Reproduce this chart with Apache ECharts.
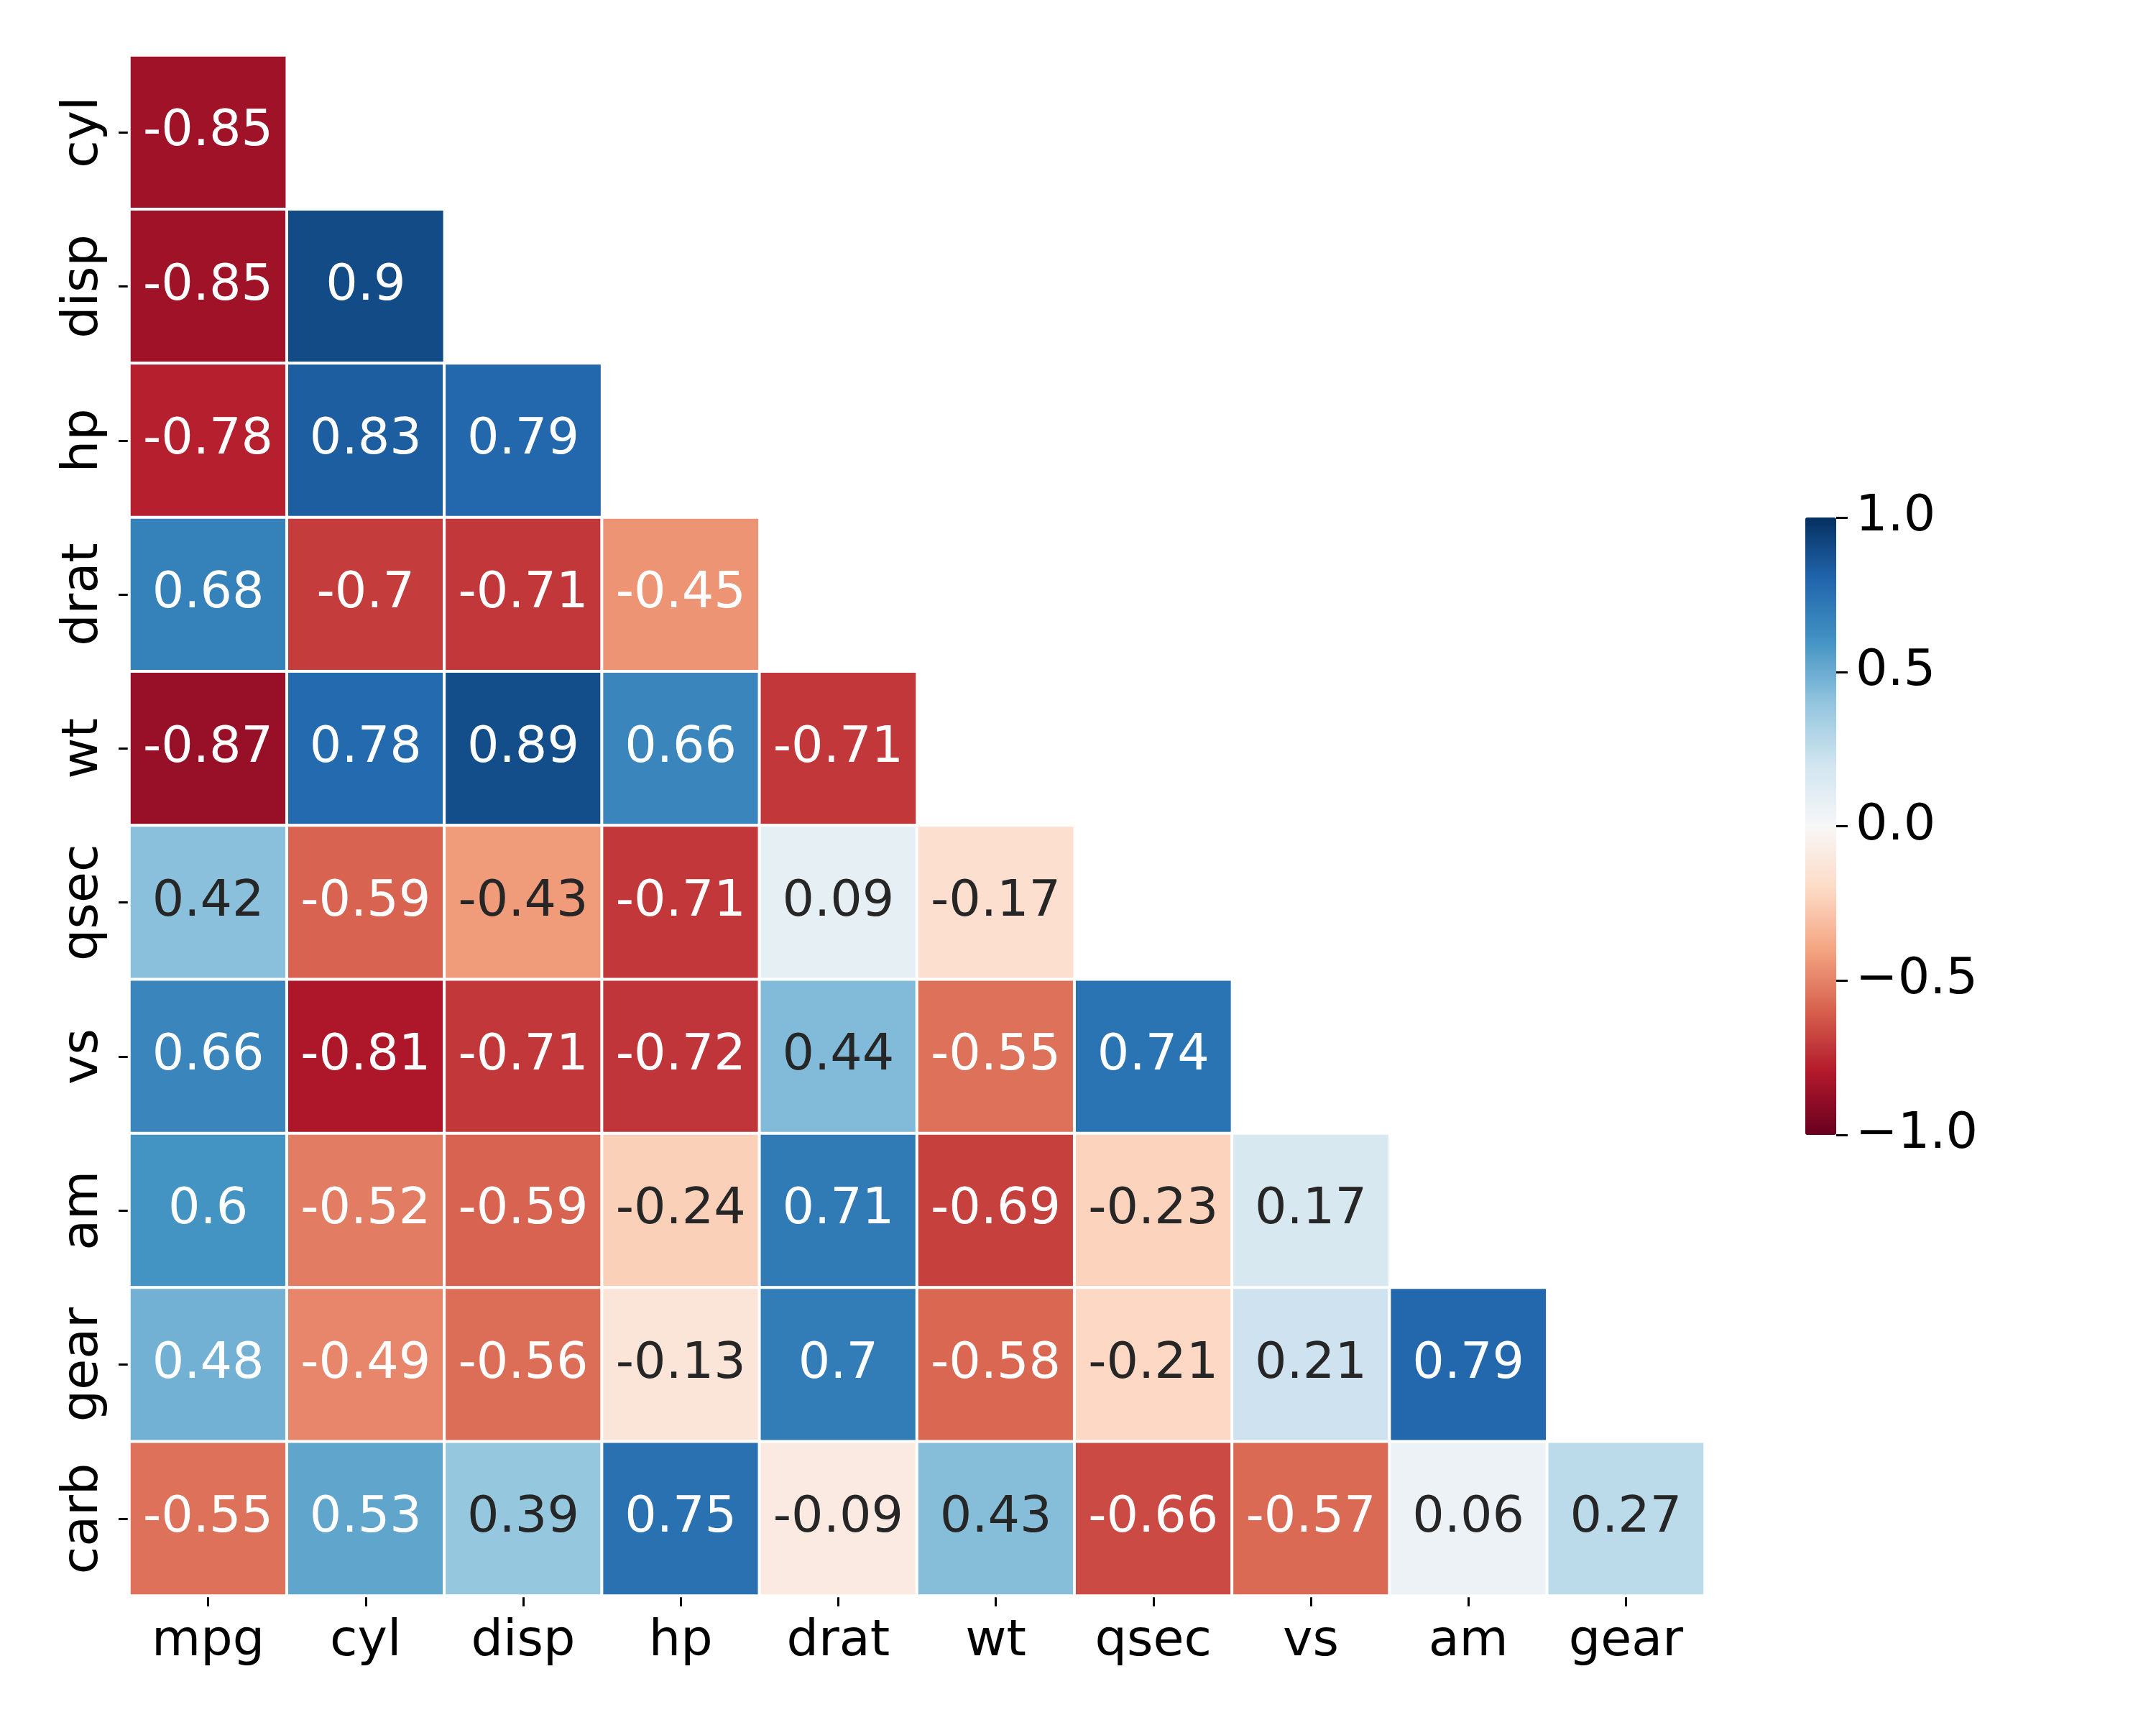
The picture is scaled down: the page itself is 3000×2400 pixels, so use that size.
<!DOCTYPE html>
<html>
<head>
<meta charset="utf-8">
<script src="https://cdn.jsdelivr.net/npm/echarts@6/dist/echarts.min.js"></script>
<style>
html,body{margin:0;padding:0;background:#fff;}
#chart{width:3000px;height:2400px;}
</style>
</head>
<body>
<div id="chart"></div>
<script>
// ---- data ----
const columns = ['mpg', 'cyl', 'disp', 'hp', 'drat', 'wt', 'qsec', 'vs', 'am', 'gear'];
const rows = ['cyl', 'disp', 'hp', 'drat', 'wt', 'qsec', 'vs', 'am', 'gear', 'carb'];
const rowCyl  = [-0.85];
const rowDisp = [-0.85, 0.9];
const rowHp   = [-0.78, 0.83, 0.79];
const rowDrat = [0.68, -0.7, -0.71, -0.45];
const rowWt   = [-0.87, 0.78, 0.89, 0.66, -0.71];
const rowQsec = [0.42, -0.59, -0.43, -0.71, 0.09, -0.17];
const rowVs   = [0.66, -0.81, -0.71, -0.72, 0.44, -0.55, 0.74];
const rowAm   = [0.6, -0.52, -0.59, -0.24, 0.71, -0.69, -0.23, 0.17];
const rowGear = [0.48, -0.49, -0.56, -0.13, 0.7, -0.58, -0.21, 0.21, 0.79];
const rowCarb = [-0.55, 0.53, 0.39, 0.75, -0.09, 0.43, -0.66, -0.57, 0.06, 0.27];
const colorbarTicks = [-1.0, -0.5, 0.0, 0.5, 1.0];

const matrix = [rowCyl, rowDisp, rowHp, rowDrat, rowWt, rowQsec, rowVs, rowAm, rowGear, rowCarb];
const rdbu_r = ['#67001f', '#b2182b', '#d6604d', '#f4a582', '#fddbc7', '#f7f7f7',
                '#d1e5f0', '#92c5de', '#4393c3', '#2166ac', '#053061'];

const heatData = [];
matrix.forEach((vals, r) => {
  vals.forEach((v, c) => {
    heatData.push({
      value: [c, r, v],
      label: { color: Math.abs(v) >= 0.45 ? '#ffffff' : '#262626' }
    });
  });
});

const FONT = 'DejaVu Sans';
const FS = 70;
const cbMin = colorbarTicks[0], cbMax = colorbarTicks[colorbarTicks.length - 1];

const chart = echarts.init(document.getElementById('chart'), null, { renderer: 'canvas' });
chart.setOption({
  backgroundColor: '#ffffff',
  animation: false,
  textStyle: { fontFamily: FONT },
  grid: [
    { left: 180, top: 77, width: 2192, height: 2143, containLabel: false },
    { left: 2512, top: 720, width: 43, height: 859, containLabel: false }
  ],
  xAxis: [
    {
      type: 'category', gridIndex: 0, data: columns, position: 'bottom',
      axisLine: { show: false },
      axisTick: { show: true, alignWithLabel: true, length: 15, lineStyle: { color: '#000', width: 3 } },
      axisLabel: { fontSize: FS, color: '#000', fontFamily: FONT, margin: 30 },
      splitLine: { show: false }
    },
    {
      type: 'category', gridIndex: 1, data: [''], show: false
    }
  ],
  yAxis: [
    {
      type: 'category', gridIndex: 0, data: rows, inverse: true,
      axisLine: { show: false },
      axisTick: { show: true, alignWithLabel: true, length: 15, lineStyle: { color: '#000', width: 3 } },
      axisLabel: { fontSize: FS, color: '#000', fontFamily: FONT, rotate: 90, margin: 28 },
      splitLine: { show: false }
    },
    {
      type: 'value', gridIndex: 1, min: cbMin, max: cbMax, interval: 0.5, position: 'right',
      axisLine: { show: false },
      axisTick: { show: true, length: 16, lineStyle: { color: '#000', width: 3 } },
      axisLabel: {
        fontSize: FS, color: '#000', fontFamily: FONT, margin: 27,
        formatter: v => (v < 0 ? '\u2212' : '') + Math.abs(v).toFixed(1)
      },
      splitLine: { show: false }
    }
  ],
  visualMap: {
    type: 'continuous',
    min: cbMin, max: cbMax,
    seriesIndex: 0,
    dimension: 2,
    calculable: false,
    realtime: false,
    hoverLink: false,
    show: true,
    orient: 'vertical',
    left: 2512, top: 720,
    padding: 0,
    itemWidth: 43, itemHeight: 859,
    text: null,
    showLabel: false,
    inRange: { color: rdbu_r }
  },
  series: [
    {
      type: 'heatmap',
      xAxisIndex: 0, yAxisIndex: 0,
      data: heatData,
      itemStyle: { borderColor: '#ffffff', borderWidth: 4 },
      label: {
        show: true, fontSize: FS, fontFamily: FONT,
        formatter: p => String(p.value[2])
      },
      emphasis: { disabled: true }
    }
  ]
});
</script>
</body>
</html>
